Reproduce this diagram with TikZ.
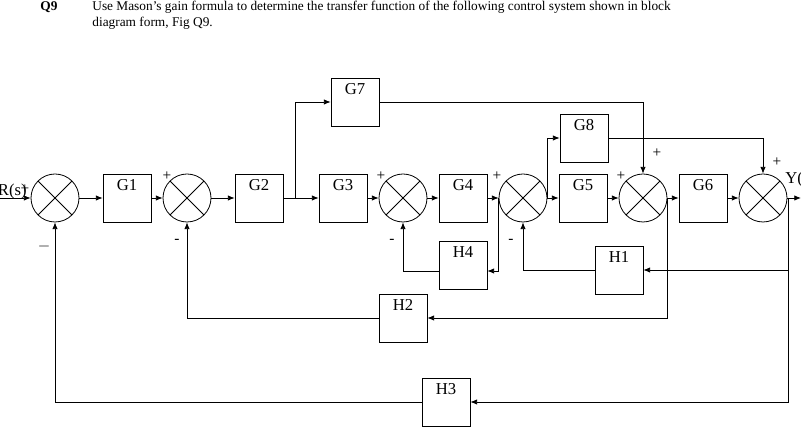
\documentclass[tikz,border=0pt]{standalone}
\usepackage{fontspec}
\setmainfont{Liberation Serif}
\usetikzlibrary{arrows.meta}
\begin{document}
\begin{tikzpicture}[x=0.75pt,y=-0.75pt,
  blk/.style={draw,minimum width=36pt,minimum height=36pt,inner sep=0pt},
  lbl/.style={font=\fontsize{12.5}{13}\selectfont},
  sum/.style={draw,circle,minimum size=36pt,inner sep=0pt,
    path picture={\draw (path picture bounding box.south west) -- (path picture bounding box.north east)
      (path picture bounding box.north west) -- (path picture bounding box.south east);}},
  sg/.style={font=\fontsize{11.5}{11}\selectfont,inner sep=0pt},
  >={Latex[length=5pt,width=4pt]}, line width=0.6pt]
\useasboundingbox (0,0) rectangle (801,427);
% title
\node[anchor=north west,font=\fontsize{10}{11.5}\selectfont\bfseries,inner sep=0pt] (q) at (40,1) {Q9};
\node[anchor=north west,font=\fontsize{10}{11.5}\selectfont,inner sep=0pt,align=left] (t) at (92,1)
  {Use Mason's gain formula to determine the transfer function of the following control system shown in block\\diagram form, Fig Q9.};
% blocks
\foreach \n/\x/\y in {G1/127/198,G2/259/198,G3/343/198,G4/463/198,G5/583/198,G6/703/198,
  G7/355/102,G8/584/138,H4/463/265,H1/619/270,H2/403/318,H3/446/402}
  \node[blk] (\n) at (\x,\y) {};
\foreach \n in {G1,G2,G3,G4,G5,G6,G7,G8,H4,H1,H2,H3}
  \node[lbl,anchor=north,inner sep=0pt] at ([yshift=-4pt]\n.north) {\n};
% summing junctions
\foreach \n/\x in {S1/55,S2/187,S3/403,S4/523,S5/643,S6/763}
  \node[sum] (\n) at (\x,198) {};
% input / output
\coordinate (in) at (0,198);
\coordinate (out) at (801,198);
\node[lbl,anchor=east,inner sep=0pt] (R) at (27,191) {R(s)};
\node[lbl,anchor=west,inner sep=0pt] (Y) at (785,179) {Y(s)};
\draw[->] (in) -- (S1);
\draw[->] (S1) -- (G1);
\draw[->] (G1) -- (S2);
\draw[->] (S2) -- (G2);
\coordinate (b1) at (295,198);
\draw[->] (G2) -- (G3);
\draw[->] (G3) -- (S3);
\draw[->] (S3) -- (G4);
\draw[->] (G4) -- (S4);
\draw[->] (S4) -- (G5);
\draw[->] (G5) -- (S5);
\draw[->] (S5) -- (G6);
\draw[->] (G6) -- (S6);
\draw[->] (S6) -- (out);
% feedforward
\draw[->] (b1) |- (G7);
\draw[->] (G7) -| (S5);
\coordinate (b2) at (S4.east);
\draw[->] (b2) |- (G8);
\draw[->] (G8) -| (S6);
% feedback
\coordinate (b3) at (S4.west);
\draw[->] (b3) |- ([yshift=-4.5pt]H4.east);
\draw[->] ([yshift=-4.5pt]H4.west) -| (S3);
\coordinate (b4) at (788,198);
\draw[->] (b4) |- (H1);
\draw[->] (H1) -| (S4);
\coordinate (b5) at (S5.east);
\draw[->] (b5) |- (H2);
\draw[->] (H2) -| (S2);
\draw[->] (b4) |- (H3);
\draw[->] (H3) -| (S1);
% signs
\node[sg] (p1) at (25,189) {+};
\node[sg] (m1) at (44,247) {$-$};
\node[sg] (p2) at (167,176) {+};
\node[sg] (m2) at (177,241) {-};
\node[sg] (p3) at (381,176) {+};
\node[sg] (m3) at (392,241) {-};
\node[sg] (p4) at (497,176) {+};
\node[sg] (m4) at (511,241) {-};
\node[sg] (p5) at (621,176) {+};
\node[sg] (p6) at (657,153) {+};
\node[sg] (p7) at (777,162) {+};
\end{tikzpicture}
\end{document}
